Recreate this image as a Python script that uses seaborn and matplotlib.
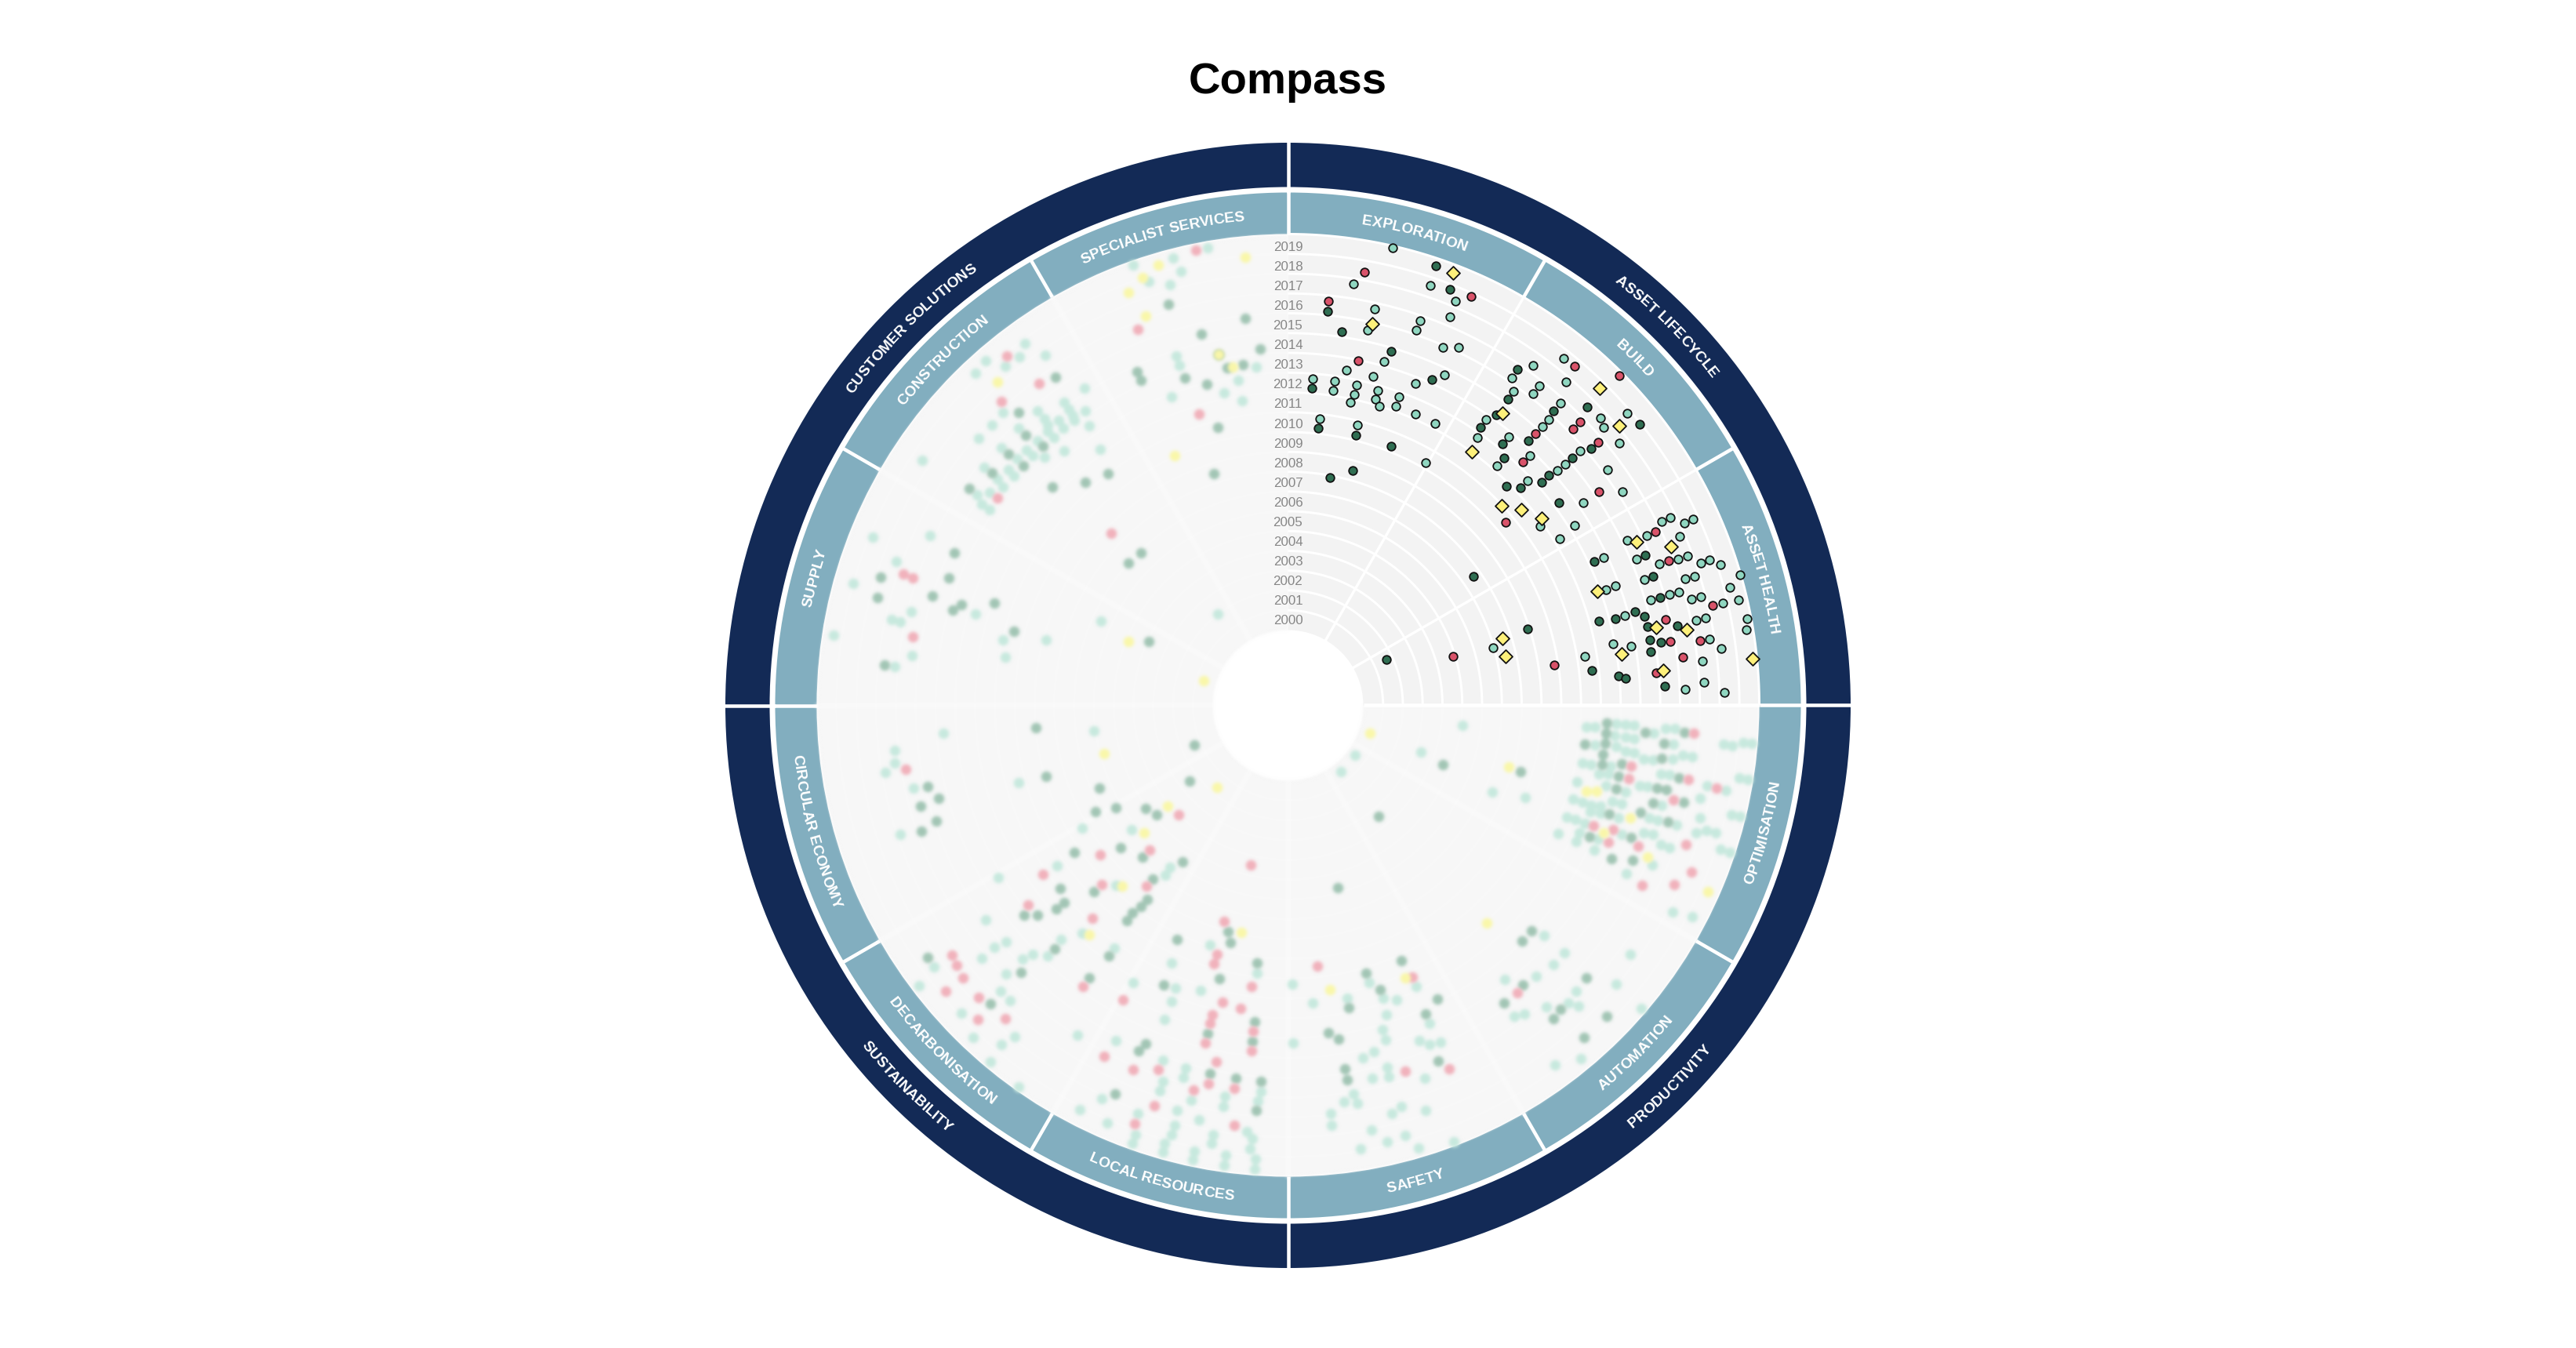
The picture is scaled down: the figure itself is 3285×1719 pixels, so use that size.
import numpy as np
import pandas as pd
import matplotlib
matplotlib.use("Agg")
import matplotlib.pyplot as plt
from matplotlib.patches import Wedge
from matplotlib.textpath import TextToPath
from matplotlib.font_manager import FontProperties
import seaborn as sns

# ---- labels ----
title = "Compass"
years = list(range(2000, 2020))
horizons = ["ASSET LIFECYCLE", "PRODUCTIVITY", "SUSTAINABILITY", "CUSTOMER SOLUTIONS"]
themes = ["EXPLORATION", "BUILD", "ASSET HEALTH", "OPTIMISATION", "AUTOMATION", "SAFETY",
          "LOCAL RESOURCES", "DECARBONISATION", "CIRCULAR ECONOMY", "SUPPLY",
          "CONSTRUCTION", "SPECIALIST SERVICES"]

# ---- values: (east, north) from the compass centre, chart units ----
active_light = [(476,235),(487,240),(505,233),(516,238),(499,216),(457,217),(432,211),(444,186),(473,180),(497,186),
    (509,190),(526,181),(537,185),(551,179),(576,166),(454,160),(506,161),(518,164),(563,150),(574,134),(554,130),
    (462,134),(486,141),(498,144),(514,135),(526,138),(520,108),(532,111),(585,110),(584,96),(429,114),(405,147),
    (417,152),(402,188),(537,84),(552,72),(414,78),(437,75),(378,62),(528,56),(530,29),(506,20),(556,16),(321,229),
    (365,230),(346,213),(376,259),(426,273),(351,443),(312,434),(285,418),(320,408),(312,398),(287,401),(354,413),
    (347,386),(332,365),(324,356),(398,367),(402,355),(432,373),(422,335),(281,343),(308,319),(266,306),(372,325),
    (353,308),(343,300),(305,287),(407,301),(261,73),(133,584),(181,536),(83,538),(213,516),(110,506),(206,496),
    (168,491),(163,479),(101,479),(197,457),(217,457),(122,439),(74,428),(108,420),(199,422),(31,417),(59,414),
    (162,411),(87,409),(57,402),(114,402),(84,397),(141,394),(111,391),(79,387),(116,382),(137,382),(162,372),
    (40,366),(187,360),(88,358),(175,310),(252,365),(241,342)]
active_dark = [(390,183),(455,191),(465,164),(474,137),(396,107),(417,110),(442,119),(454,113),(458,100),(496,101),
    (461,83),(475,80),(462,68),(387,44),(421,37),(430,34),(480,24),(345,259),(292,429),(280,391),(265,371),(338,376),
    (381,381),(448,359),(306,338),(273,334),(275,316),(362,316),(386,328),(332,294),(323,285),(296,278),(278,280),
    (305,97),(188,561),(206,531),(50,503),(68,477),(131,452),(183,416),(30,405),(38,354),(86,345),(131,331),(82,300),
    (53,291),(245,355),(236,164),(125,58)]
active_red = [(468,222),(485,184),(541,127),(481,109),(487,81),(525,82),(503,61),(339,51),(469,41),(396,273),
    (365,433),(422,421),(372,362),(363,353),(315,347),(395,336),(299,311),(277,234),(97,553),(233,522),(51,516),
    (89,440),(210,62)]
active_gold = [(444,209),(488,203),(394,145),(469,99),(508,96),(425,65),(478,44),(592,59),(323,239),(397,405),
    (273,373),(422,357),(272,255),(297,250),(273,85),(277,62),(210,552),(107,487),(234,324)]

muted_light = [(380,-28),(391,-28),(418,-24),(430,-25),(441,-26),(466,-36),(481,-30),(493,-30),(391,-51),(416,-39),
    (430,-41),(441,-43),(491,-50),(418,-53),(430,-59),(441,-61),(453,-69),(465,-70),(490,-69),(503,-64),(515,-66),
    (375,-74),(386,-76),(411,-78),(396,-88),(408,-88),(475,-88),(486,-89),(368,-98),(405,-103),(448,-103),(458,-104),
    (430,-111),(260,-111),(302,-118),(363,-120),(375,-124),(386,-128),(398,-129),(413,-123),(425,-126),(385,-136),
    (398,-138),(355,-143),(366,-146),(378,-151),(421,-144),(460,-144),(471,-147),(495,-153),(371,-163),(395,-171),
    (425,-165),(453,-163),(465,-165),(344,-164),(367,-174),(475,-178),(486,-182),(390,-185),(464,-204),(431,-215),
    (525,-119),(534,-103),(558,-109),(575,-93),(586,-95),(555,-50),(566,-52),(580,-48),(591,-49),(565,-140),(576,-142),
    (525,-144),(520,-163),(533,-160),(545,-163),(551,-184),(563,-188),(490,-264),(515,-270),(476,-128),
    (222,-26),(85,-64),(67,-85),(169,-60),
    (326,-294),(352,-316),(338,-331),(276,-350),(316,-346),(436,-318),(418,-356),(367,-365),(357,-380),(370,-384),
    (329,-385),(450,-387),(288,-397),(301,-394),(373,-451),(340,-459),
    (5,-356),(31,-380),(103,-354),(163,-359),(75,-374),(121,-374),(138,-376),(125,-395),(180,-406),(120,-414),(124,-427),
    (6,-431),(167,-428),(180,-433),(194,-430),(95,-450),(109,-442),(126,-462),(128,-474),(107,-476),(174,-476),(83,-496),
    (71,-506),(88,-508),(144,-512),(132,-521),(175,-517),(54,-521),(55,-536),(106,-542),(149,-549),(126,-557),(92,-566),
    (166,-565),(211,-557),
    (-440,-36),(-502,-58),(-502,-74),(-514,-86),(-478,-106),(-495,-165),(-248,-33),(-344,-99),(-263,-157),(-200,-159),
    (-295,-205),(-151,-207),(-157,-217),(-370,-220),(-220,-230),(-386,-274),(-263,-291),(-290,-299),(-222,-310),
    (-360,-302),(-375,-309),(-391,-323),(-326,-318),(-339,-324),(-307,-320),(-100,-306),(-149,-329),(-360,-343),
    (-452,-334),(-40,-342),(-198,-354),(-144,-361),(-112,-364),(-149,-378),(-471,-358),(-367,-365),(-355,-377),
    (-417,-393),(-158,-401),(-402,-424),(-349,-423),(-269,-421),(-366,-433),(-220,-428),(-380,-455),(-160,-453),
    (-131,-463),(-134,-475),(-160,-480),(-164,-492),(-238,-502),(-124,-504),(-344,-487),(-142,-517),(-266,-516),
    (-192,-521),(-114,-529),(-81,-499),(-83,-512),(-35,-493),(-39,-505),(-231,-533),(-145,-536),(-149,-548),(-96,-548),
    (-98,-559),(-53,-544),(-46,-553),(-49,-566),(-195,-548),(-199,-559),(-158,-559),(-160,-570),(-120,-569),(-122,-580),
    (-80,-574),(-82,-587),(-42,-579),(-43,-592),
    (-103,584),(-147,571),(-137,554),(-198,562),(-178,541),(-151,537),(-143,446),(-139,434),(-41,432),(-64,415),
    (-82,399),(-59,389),(-149,394),
    (-336,462),(-386,440),(-343,445),(-310,447),(-361,433),(-399,424),(-260,405),(-364,374),(-378,358),(-395,341),
    (-320,376),(-311,366),(-286,387),(-280,378),(-275,370),(-273,364),(-293,364),(-287,354),(-307,358),(-259,376),
    (-254,357),(-344,354),(-307,350),(-299,342),(-320,338),(-366,329),(-334,326),(-326,319),(-311,317),(-286,325),
    (-240,327),(-346,315),(-357,301),(-350,293),(-388,304),(-371,289),(-364,279),(-381,272),(-397,269),(-391,257),
    (-381,250),(-467,313),
    (-530,215),(-457,217),(-500,183),(-555,155),(-481,119),(-506,109),(-495,106),(-399,116),(-580,89),(-480,63),
    (-502,49),(-364,83),(-309,83),(-361,61),(-239,107),(-90,116)]
muted_dark = [(406,-23),(405,-36),(404,-49),(401,-63),(400,-76),(455,-35),(505,-35),(378,-50),(479,-49),(476,-68),
    (425,-75),(421,-91),(498,-93),(418,-107),(470,-106),(482,-108),(465,-125),(504,-124),(409,-139),(449,-137),(484,-149),
    (384,-168),(437,-169),(412,-196),(439,-198),(296,-85),(197,-76),(115,-142),(63,-233),
    (310,-288),(298,-301),(380,-348),(299,-357),(275,-380),(347,-388),(338,-400),(406,-397),(377,-424),
    (144,-326),(99,-342),(117,-363),(77,-386),(190,-375),(175,-394),(51,-418),(64,-426),(191,-454),(72,-464),(75,-478),
    (-322,-29),(-460,-104),(-446,-119),(-469,-129),(-449,-148),(-468,-161),(-309,-91),(-241,-106),(-120,-51),(-126,-97),
    (-246,-136),(-220,-131),(-182,-132),(-168,-140),(-273,-188),(-214,-182),(-186,-194),(-135,-200),(-291,-234),(-248,-238),
    (-173,-222),(-180,-248),(-188,-257),(-199,-265),(-206,-275),(-286,-252),(-296,-260),(-337,-268),(-320,-268),(-142,-299),
    (-77,-289),(-74,-303),(-298,-311),(-229,-320),(-341,-341),(-254,-348),(-380,-381),(-460,-322),(-40,-329),(-88,-349),
    (-159,-357),(-43,-404),(-103,-419),(-46,-429),(-182,-432),(-191,-441),(-100,-470),(-67,-476),(-35,-480),(-41,-517),(-221,-496),
    (-153,512),(-55,494),(-111,474),(-36,455),(-89,448),(-58,435),(-78,431),(-193,426),(-188,415),(-132,418),(-104,410),
    (-90,355),(-95,296),
    (-297,419),(-344,374),(-335,345),(-313,331),(-357,321),(-338,306),(-378,297),(-407,277),(-230,296),(-259,285),(-301,279),
    (-426,195),(-520,163),(-433,162),(-524,137),(-454,139),(-417,128),(-428,121),(-375,130),(-350,94),(-515,51),(-188,195),
    (-204,181),(-178,81)]
muted_red = [(517,-36),(437,-78),(434,-94),(510,-95),(546,-106),(491,-121),(389,-154),(414,-159),(408,-175),(446,-180),
    (507,-178),(514,-213),(451,-230),(492,-229),(292,-367),(37,-333),(158,-347),(149,-467),(205,-464),
    (-488,-82),(-140,-140),(-240,-191),(-177,-185),(-313,-216),(-238,-229),(-181,-231),(-48,-204),(-332,-255),(-250,-272),
    (-82,-276),(-91,-318),(-95,-330),(-429,-319),(-423,-332),(-415,-348),(-437,-365),(-395,-373),(-396,-401),(-361,-400),
    (-262,-359),(-211,-376),(-47,-359),(-84,-379),(-61,-387),(-97,-395),(-100,-406),(-45,-416),(-106,-431),(-47,-441),
    (-235,-448),(-198,-465),(-166,-465),(-92,-455),(-102,-483),(-69,-489),(-121,-491),(-171,-511),(-69,-536),(-196,-534),
    (-118,581),(-192,480),(-114,372),(-359,446),(-318,411),(-366,388),(-371,265),(-491,167),(-479,162),(-479,87),(-226,220)]
muted_gold = [(281,-79),(380,-110),(393,-110),(436,-144),(402,-163),(458,-194),(535,-238),(104,-36),(253,-278),
    (149,-348),(53,-363),(-235,-62),(-91,-105),(-154,-129),(-184,-163),(-212,-231),(-254,-293),(-60,-290),
    (-55,572),(-166,562),(-186,546),(-204,527),(-182,497),(-89,448),(-71,432),(-145,319),(-371,413),(-204,81),(-108,31)]

# ---- styling ----
NAVY, TEAL = "#132a56", "#82aebf"
FILL = {"light": "#8fd6c0", "dark": "#2f6e52", "red": "#d9536a", "gold": "#fdf07a"}
SOFT = {"light": "#c8eadf", "dark": "#a2c6b5", "red": "#f2b2bc", "gold": "#fbf8aa"}
W, H, DPI = 3285, 1719, 100
CX, CY = 1642.5, 899.5
HOLE, STEP = 96.0, 25.25
PLOT_R, TEAL_R, NAVY_IN, NAVY_OUT = 601, 654, 661, 717.5
PX = 72 / DPI

sns.set_theme(style="white")
plt.rcParams["font.family"] = ["Liberation Sans", "DejaVu Sans"]

fig = plt.figure(figsize=(W / DPI, H / DPI), dpi=DPI, facecolor="white")
ax = fig.add_axes([0, 0, 1, 1])
ax.set_xlim(-CX, W - CX)
ax.set_ylim(CY - H, CY)
ax.set_aspect("equal")
ax.axis("off")

_k = np.exp(-0.5 * (np.arange(-5, 6) / 1.5) ** 2)
_k /= _k.sum()


def blur(img, dpi):
    pad = 7
    out = np.pad(img, ((pad, pad), (pad, pad), (0, 0))).astype(float)
    out[..., :3] *= out[..., 3:]
    for axis in (0, 1):
        out = sum(w * np.roll(out, s, axis) for s, w in zip(range(-5, 6), _k))
    a = out[..., 3:]
    out[..., :3] = np.divide(out[..., :3], a, out=np.zeros_like(out[..., :3]), where=a > 1e-4)
    return np.clip(out, 0, 1), -pad, -pad


def polar_xy(bearing, r):
    b = np.radians(bearing)
    return r * np.sin(b), r * np.cos(b)


# rings of the compass
ax.add_patch(Wedge((0, 0), NAVY_OUT, 0, 360, width=NAVY_OUT - NAVY_IN, fc=NAVY, ec="none", zorder=1))
ax.add_patch(Wedge((0, 0), TEAL_R, 0, 360, width=TEAL_R - PLOT_R, fc=TEAL, ec="none", zorder=1))
ax.add_patch(Wedge((0, 0), PLOT_R, 0, 90, width=PLOT_R - HOLE, fc="#f3f3f3", ec="none", zorder=1))
muted_bg = Wedge((0, 0), PLOT_R - 1, 90, 360, width=PLOT_R - 1 - HOLE, fc="#f7f7f7", ec="none", zorder=1)
ax.add_patch(muted_bg)
muted_bg.set_agg_filter(blur)

# active quadrant grid
radii = HOLE + STEP * np.arange(1, 21)
arc = np.linspace(0, 90, 180)
for r in radii:
    x, y = polar_xy(arc, r)
    ax.plot(x, y, color="white", lw=3 * PX, zorder=2, solid_capstyle="butt")
for b in (30, 60):
    x, y = polar_xy(np.array([b, b]), np.array([HOLE, PLOT_R]))
    ax.plot(x, y, color="white", lw=3.4 * PX, zorder=2)

# muted grid, one blurred path
arc2 = np.linspace(90, 360, 400)
gx, gy = [], []
for r in radii[:-1]:
    x, y = polar_xy(arc2, r)
    gx += [x, [np.nan]]
    gy += [y, [np.nan]]
line = ax.plot(np.concatenate(gx), np.concatenate(gy), color="white", alpha=0.3, lw=2.4 * PX, zorder=2)[0]
line.set_agg_filter(blur)
for b in range(120, 360, 30):
    x, y = polar_xy(np.array([b, b]), np.array([HOLE, PLOT_R]))
    l2 = ax.plot(x, y, color="white", alpha=0.3, lw=8 * PX, zorder=2)[0]
    l2.set_agg_filter(blur)

# dividers
for b in range(0, 360, 30):
    x, y = polar_xy(np.array([b, b]), np.array([PLOT_R, TEAL_R + 4]))
    ax.plot(x, y, color="white", lw=4.5 * PX, zorder=3, solid_capstyle="butt")
for b in range(0, 360, 90):
    x, y = polar_xy(np.array([b, b]), np.array([TEAL_R, NAVY_OUT + 1]))
    ax.plot(x, y, color="white", lw=4.5 * PX, zorder=3, solid_capstyle="butt")
x, y = polar_xy(np.array([90, 90]), np.array([HOLE, PLOT_R]))
ax.plot(x, y, color="white", lw=4.5 * PX, zorder=3, solid_capstyle="butt")


def frame(points, kind):
    return pd.DataFrame(points, columns=["east", "north"]).assign(kind=kind)


# muted points: soft and without outline
for points, kind in [(muted_light, "light"), (muted_dark, "dark"), (muted_red, "red"), (muted_gold, "gold")]:
    n0 = len(ax.collections)
    sns.scatterplot(data=frame(points, kind), x="east", y="north", color=SOFT[kind], s=(13.5 * PX) ** 2,
                    marker="o", linewidth=0, legend=False, ax=ax, zorder=4)
    ax.collections[n0].set_agg_filter(blur)

# active points: sharp with a dark outline
for points, kind, mark, size in [(active_light, "light", "o", 10.6), (active_dark, "dark", "o", 10.6),
                                 (active_red, "red", "o", 10.6), (active_gold, "gold", "D", 12.0)]:
    sns.scatterplot(data=frame(points, kind), x="east", y="north", color=FILL[kind], s=(size * PX) ** 2,
                    marker=mark, edgecolor="#111111", linewidth=1.8 * PX, legend=False, ax=ax, zorder=5)

ax.set_xlabel("")
ax.set_ylabel("")
ax.set_xlim(-CX, W - CX)
ax.set_ylim(CY - H, CY)

# year labels
for i, yr in enumerate(years):
    ax.text(0, 108 + 25.05 * i, str(yr), ha="center", va="center", color="#868686",
            fontsize=12.2, zorder=6)

# text following the circle
t2p = TextToPath()


def curved(text, centre, r_mid, size):
    prop = FontProperties(family="Liberation Sans", weight="bold", size=size)
    width = lambda s: t2p.get_text_width_height_descent(s, prop, False)[0] / PX
    cap = 0.716 * size / PX
    total = width(text)
    top = 270 < centre or centre < 90
    rb = r_mid - cap / 2 if top else r_mid + cap / 2
    for i, ch in enumerate(text):
        s = width(text[:i + 1]) - width(ch) / 2 - total / 2
        dev = np.degrees(s / rb)
        b = centre + dev if top else centre - dev
        x, y = polar_xy(b, rb)
        rot = -b if top else 180 - b
        ax.text(x, y, ch, rotation=rot, rotation_mode="anchor", ha="center", va="baseline",
                color="white", fontproperties=prop, zorder=6)


for i, name in enumerate(themes):
    curved(name, 15 + 30 * i, 627.5, 13.8)
for i, name in enumerate(horizons):
    curved(name, 45 + 90 * i, 689, 13.8)

ax.text(0, CY - 105, title, ha="center", va="center", fontsize=40.5, fontweight="bold", color="black", zorder=6)

fig.savefig("out.png", dpi=DPI, facecolor="white")
